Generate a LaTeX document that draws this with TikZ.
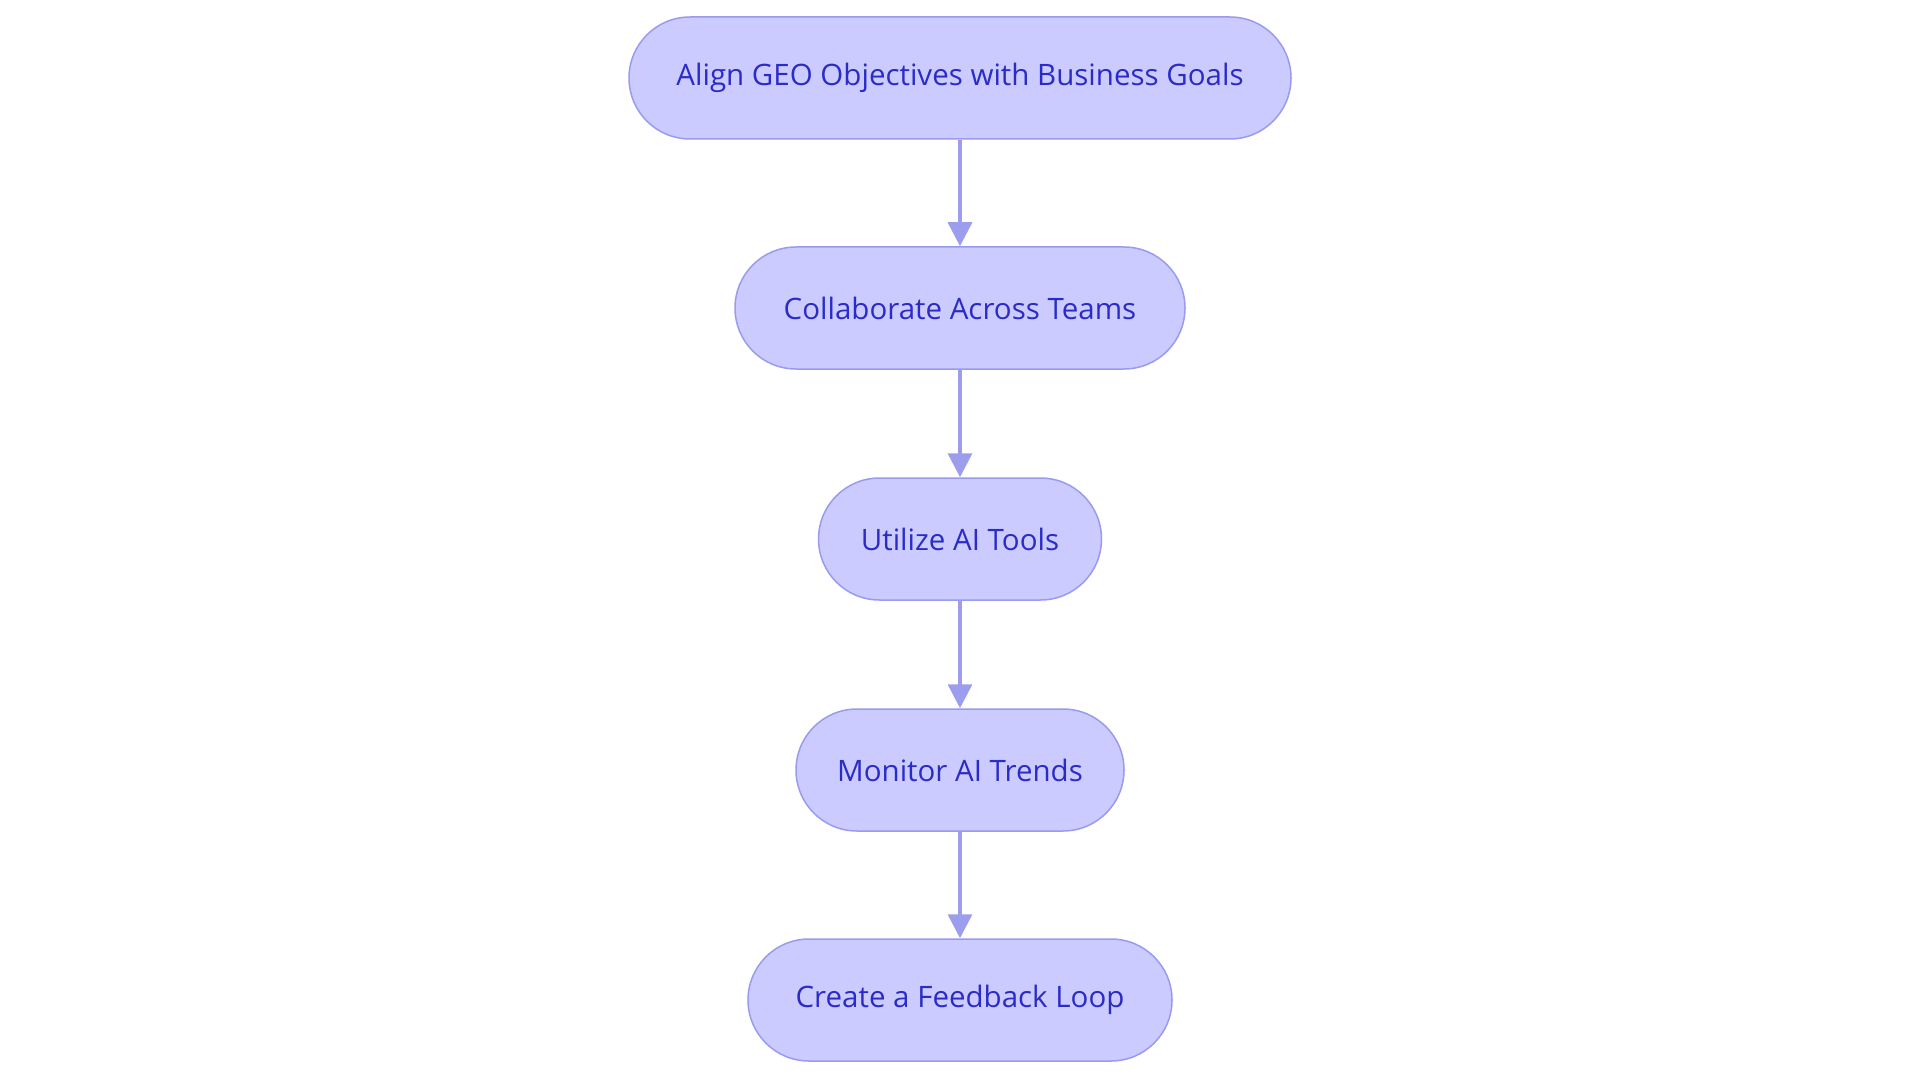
\documentclass[tikz,border=0pt]{standalone}
\usepackage{fontspec}
\setmainfont{Open Sans}
\usetikzlibrary{arrows.meta}
\definecolor{nfill}{HTML}{CBCBFF}
\definecolor{nborder}{HTML}{9A9AEE}
\definecolor{ntext}{HTML}{2B2BC8}
\definecolor{arr}{HTML}{9D9DEE}
\begin{document}
\begin{tikzpicture}[x=1pt,y=-1pt,
  box/.style={draw=nborder,line width=1.5pt,fill=nfill,text=ntext,rounded corners=61pt,minimum height=122pt,font=\fontsize{29.5}{34}\selectfont,inner sep=0pt,anchor=center},
  con/.style={draw=arr,line width=3.5pt,-{Triangle[length=24pt,width=24pt]}}]
\useasboundingbox (0,0) rectangle (1920,1083);
\node[box,minimum width=662pt] (a) at (960,78) {Align GEO Objectives with Business Goals};
\node[box,minimum width=450pt] (b) at (960,308) {Collaborate Across Teams};
\node[box,minimum width=283pt] (c) at (960,539) {Utilize AI Tools};
\node[box,minimum width=328pt] (d) at (960,770) {Monitor AI Trends};
\node[box,minimum width=424pt] (e) at (960,1000) {Create a Feedback Loop};
\draw[con] (a) -- (b);
\draw[con] (b) -- (c);
\draw[con] (c) -- (d);
\draw[con] (d) -- (e);
\end{tikzpicture}
\end{document}
